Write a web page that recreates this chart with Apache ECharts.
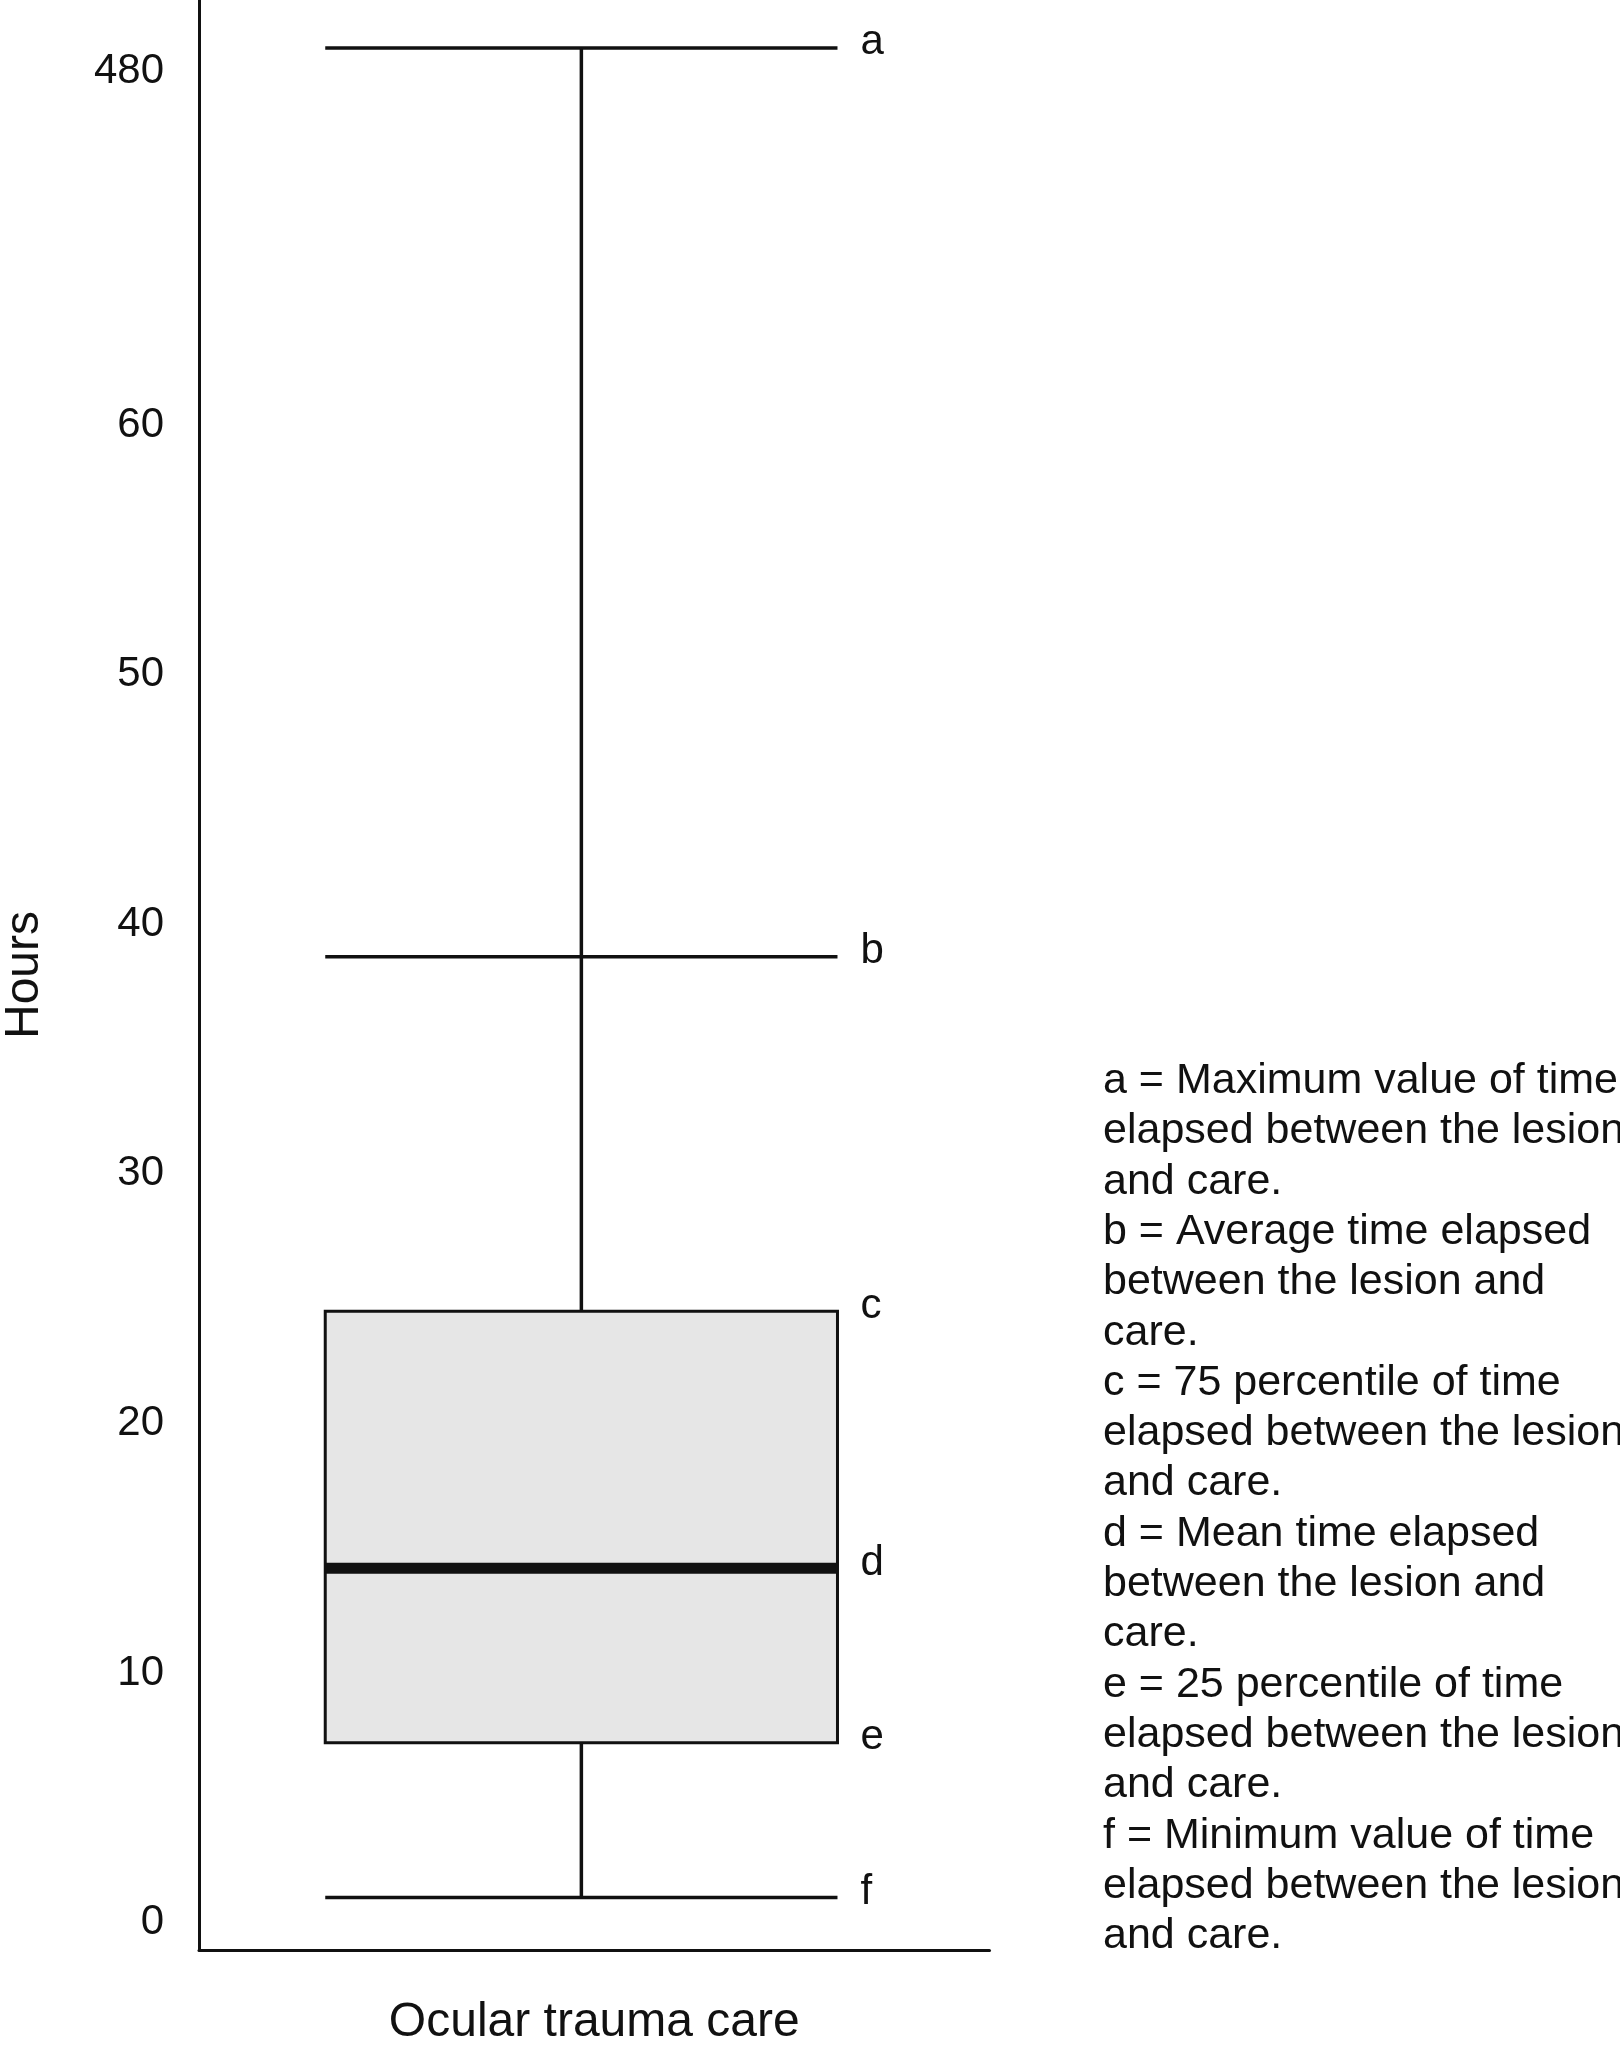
<!DOCTYPE html>
<html>
<head>
<meta charset="utf-8">
<script src="https://cdn.jsdelivr.net/npm/echarts@6/dist/echarts.min.js"></script>
<style>
html,body{margin:0;padding:0;background:#fff;}
#chart{width:1620px;height:2047px;}
</style>
</head>
<body>
<div id="chart"></div>
<script>
// ---- data (hours) ----
const categories = ['Ocular trauma care'];
const tickHours = [0, 10, 20, 30, 40, 50, 60, 480];
// min, 25th percentile, median, 75th percentile, max
const boxHours = [1, 7.2, 14.2, 24.5, 480];
const averageHours = [38.7];
const markerLetters = ['a', 'b', 'c', 'd', 'e', 'f'];
const legendLines = [
  'a = Maximum value of time',
  'elapsed between the lesion',
  'and care.',
  'b = Average time elapsed',
  'between the lesion and',
  'care.',
  'c = 75 percentile of time',
  'elapsed between the lesion',
  'and care.',
  'd = Mean time elapsed',
  'between the lesion and',
  'care.',
  'e = 25 percentile of time',
  'elapsed between the lesion',
  'and care.',
  'f = Minimum value of time',
  'elapsed between the lesion',
  'and care.'
];

// broken axis: 0-60 linear, then compressed up to 480
const BREAK_AT = 60;
const BREAK_SCALE = 15.13 / 420;
function pos(h) { return h <= BREAK_AT ? h : BREAK_AT + (h - BREAK_AT) * BREAK_SCALE; }

const FONT = '"Liberation Sans", Arial, Helvetica, sans-serif';
const INK = '#111111';

const tickPos = tickHours.map(pos);
const item = [0].concat(boxHours.map(pos)).concat(averageHours.map(pos));

const chart = echarts.init(document.getElementById('chart'), null, {renderer: 'canvas'});

chart.setOption({
  backgroundColor: '#ffffff',
  animation: false,
  grid: {left: 193, right: 630.5, top: 0, bottom: 95.4, containLabel: false},
  xAxis: {
    type: 'category',
    data: categories,
    boundaryGap: true,
    axisLine: {show: true, onZero: false, lineStyle: {color: INK, width: 3}},
    axisTick: {show: false},
    axisLabel: {show: true, margin: 49, fontSize: 48, fontFamily: FONT, color: INK},
    splitLine: {show: false}
  },
  yAxis: {
    type: 'value',
    min: -1.105,
    max: 77.05,
    name: 'Hours',
    nameLocation: 'middle',
    nameGap: 150,
    nameTextStyle: {fontSize: 48, fontFamily: FONT, color: INK},
    axisLine: {show: true, lineStyle: {color: INK, width: 3}},
    axisTick: {show: false},
    splitLine: {show: false},
    axisLabel: {
      customValues: tickPos,
      margin: 35,
      fontSize: 42,
      fontFamily: FONT,
      color: INK,
      formatter: function (v) {
        for (let i = 0; i < tickPos.length; i++) {
          if (Math.abs(tickPos[i] - v) < 1e-6) {
            return tickHours[i] > BREAK_AT ? '{hi|' + tickHours[i] + '}' : String(tickHours[i]);
          }
        }
        return '';
      },
      rich: {
        hi: {padding: [48, 0, 0, 0], fontSize: 42, fontFamily: FONT, color: INK}
      }
    }
  },
  series: [{
    type: 'custom',
    data: [item],
    encode: {x: 0, y: [1, 2, 3, 4, 5, 6]},
    renderItem: function (params, api) {
      const band = api.size([1, 0])[0];
      const cx = api.coord([api.value(0), 0])[0] - 0.0163 * band;
      const half = 0.324 * band;
      const L = cx - half, R = cx + half;
      const yMin = api.coord([0, api.value(1)])[1];
      const yQ1 = api.coord([0, api.value(2)])[1];
      const yMed = api.coord([0, api.value(3)])[1];
      const yQ3 = api.coord([0, api.value(4)])[1];
      const yMax = api.coord([0, api.value(5)])[1];
      const yAvg = api.coord([0, api.value(6)])[1];
      const line = (x1, y1, x2, y2, w) => ({
        type: 'line', shape: {x1, y1, x2, y2},
        style: {stroke: INK, lineWidth: w || 3.5}
      });
      const label = (t, y) => ({
        type: 'text',
        style: {text: t, x: R + 23, y: y - 5, fontSize: 42, fontFamily: FONT, fill: INK,
                verticalAlign: 'middle', align: 'left'}
      });
      return {
        type: 'group',
        children: [
          line(cx, yMax, cx, yQ3),
          line(cx, yQ1, cx, yMin),
          line(L, yMax, R, yMax),
          line(L, yAvg, R, yAvg),
          line(L, yMin, R, yMin),
          {type: 'rect', shape: {x: L, y: yQ3, width: R - L, height: yQ1 - yQ3},
           style: {fill: '#e6e6e6', stroke: INK, lineWidth: 3}},
          line(L, yMed, R, yMed, 11),
          label(markerLetters[0], yMax),
          label(markerLetters[1], yAvg),
          label(markerLetters[2], yQ3),
          label(markerLetters[3], yMed),
          label(markerLetters[4], yQ1),
          label(markerLetters[5], yMin)
        ]
      };
    }
  }],
  graphic: [{
    type: 'text',
    left: 1103,
    top: 1056,
    style: {
      text: legendLines.join('\n'),
      fontSize: 43,
      lineHeight: 50.3,
      fontFamily: FONT,
      fill: INK
    }
  }]
});
</script>
</body>
</html>
